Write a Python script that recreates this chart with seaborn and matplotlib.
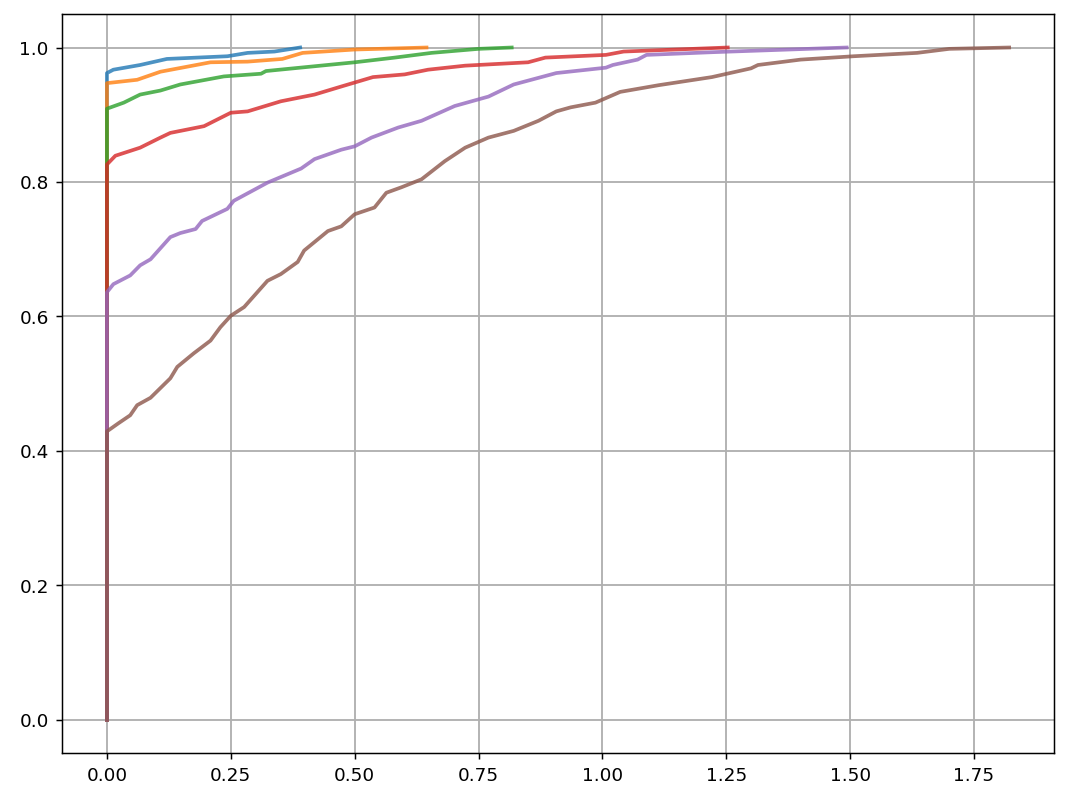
import numpy as np
import pandas as pd
import matplotlib
matplotlib.use("Agg")
import matplotlib.pyplot as plt
import seaborn as sns

# ECDF-like curves (x, cumulative fraction)
s1_x = [0, 0, 0.013, 0.067, 0.121, 0.243, 0.284, 0.338, 0.39]
s1_y = [0, 0.962, 0.967, 0.974, 0.983, 0.987, 0.992, 0.994, 1.0]

s2_x = [0, 0, 0.061, 0.108, 0.209, 0.284, 0.354, 0.395, 0.5, 0.645]
s2_y = [0, 0.947, 0.952, 0.964, 0.978, 0.979, 0.983, 0.992, 0.997, 1.0]

s3_x = [0, 0, 0.034, 0.067, 0.108, 0.148, 0.236, 0.311, 0.321, 0.5, 0.581, 0.655, 0.75, 0.817]
s3_y = [0, 0.909, 0.918, 0.930, 0.936, 0.945, 0.957, 0.961, 0.965, 0.978, 0.985, 0.992, 0.998, 1.0]

s4_x = [0, 0, 0.017, 0.067, 0.108, 0.128, 0.196, 0.25, 0.284, 0.351, 0.419, 0.473,
        0.537, 0.601, 0.648, 0.723, 0.85, 0.885, 1.007, 1.043, 1.253]
s4_y = [0, 0.826, 0.839, 0.851, 0.866, 0.873, 0.883, 0.903, 0.905, 0.92, 0.93, 0.942,
        0.956, 0.96, 0.967, 0.973, 0.978, 0.985, 0.989, 0.994, 1.0]

s5_x = [0, 0, 0.013, 0.047, 0.067, 0.088, 0.128, 0.148, 0.179, 0.192, 0.243, 0.256,
        0.324, 0.392, 0.419, 0.473, 0.5, 0.534, 0.588, 0.635, 0.702, 0.77, 0.821,
        0.907, 1.007, 1.021, 1.071, 1.089, 1.221, 1.493]
s5_y = [0, 0.636, 0.648, 0.661, 0.676, 0.685, 0.718, 0.724, 0.730, 0.742, 0.760, 0.772,
        0.799, 0.820, 0.834, 0.848, 0.853, 0.866, 0.881, 0.891, 0.913, 0.927, 0.945,
        0.962, 0.970, 0.974, 0.982, 0.989, 0.993, 1.0]

s6_x = [0, 0, 0.023, 0.047, 0.061, 0.088, 0.128, 0.142, 0.175, 0.209, 0.229, 0.25,
        0.277, 0.324, 0.351, 0.385, 0.398, 0.446, 0.473, 0.5, 0.54, 0.564, 0.594,
        0.635, 0.682, 0.723, 0.77, 0.821, 0.871, 0.907, 0.936, 0.986, 1.036, 1.114,
        1.221, 1.3, 1.314, 1.4, 1.507, 1.635, 1.7, 1.821]
s6_y = [0, 0.429, 0.441, 0.453, 0.468, 0.479, 0.508, 0.525, 0.545, 0.564, 0.584, 0.601,
        0.614, 0.653, 0.663, 0.681, 0.698, 0.727, 0.734, 0.752, 0.762, 0.784, 0.792,
        0.804, 0.831, 0.851, 0.866, 0.876, 0.891, 0.905, 0.911, 0.918, 0.934, 0.944,
        0.956, 0.969, 0.974, 0.982, 0.987, 0.992, 0.998, 1.0]

series_x = [s1_x, s2_x, s3_x, s4_x, s5_x, s6_x]
series_y = [s1_y, s2_y, s3_y, s4_y, s5_y, s6_y]
names = ["s1", "s2", "s3", "s4", "s5", "s6"]

frames = []
for n, xs, ys in zip(names, series_x, series_y):
    frames.append(pd.DataFrame({"x": xs, "y": ys, "series": n}))
df = pd.concat(frames, ignore_index=True)

fig, ax = plt.subplots(figsize=(8, 6), dpi=133.25)
fig.subplots_adjust(left=0.058, right=0.989, top=0.982, bottom=0.057)

sns.lineplot(data=df, x="x", y="y", hue="series", palette="tab10",
             sort=False, estimator=None,
             alpha=0.8, linewidth=2, legend=False, ax=ax)

ax.grid(True, color="#b0b0b0", linewidth=1.0)
ax.set_axisbelow(True)
ax.set_xlabel("")
ax.set_ylabel("")
ax.set_xticks([0, 0.25, 0.5, 0.75, 1.0, 1.25, 1.5, 1.75])
ax.set_yticks([0, 0.2, 0.4, 0.6, 0.8, 1.0])
ax.margins(0.05)

fig.savefig("out.png", dpi=133.25)
